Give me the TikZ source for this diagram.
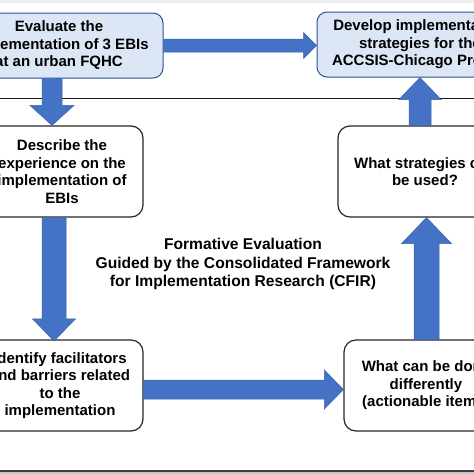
\documentclass[tikz,border=0pt]{standalone}
\usepackage{fontspec}
\setmainfont{Liberation Sans}
\usetikzlibrary{calc}
\definecolor{arrowblue}{HTML}{4472C4}
\definecolor{arrowedge}{HTML}{3A64B0}
\definecolor{lightbox}{HTML}{DCE6F4}
\definecolor{lightedge}{HTML}{2F528F}
\newcommand\blockarr[5]{%
  \coordinate (ba-q) at ($(#2)!#5!(#1)$);
  \filldraw[blockarrow] ($(#1)!#3!90:(#2)$) -- ($(ba-q)!#3!90:(#2)$) -- ($(ba-q)!#4!90:(#2)$) -- (#2)
    -- ($(ba-q)!#4!-90:(#2)$) -- ($(ba-q)!#3!-90:(#2)$) -- ($(#1)!#3!-90:(#2)$) -- cycle;}
\begin{document}
\begin{tikzpicture}[x=1pt,y=-1pt,
  boxtext/.style={font=\bfseries\fontsize{15}{17.5}\selectfont, align=center, inner sep=0pt},
  bluebox/.style={boxtext, rectangle, rounded corners=10pt, draw=lightedge, fill=lightbox, line width=1pt},
  whitebox/.style={boxtext, rectangle, rounded corners=12pt, draw=black!85, fill=white, line width=1.2pt},
  blockarrow/.style={fill=arrowblue, draw=arrowedge, line width=0.5pt},
  ]
\useasboundingbox (0,0) rectangle (474,474);
\fill[white] (0,0) rectangle (474,474);
\fill[black!7] (0,0) rectangle (474,2.5);
\fill[black!22] (0,472) rectangle (474,474);
\draw[black!90, line width=1pt] (0,98) -- (474,98);
\draw[black!75, line width=1.6pt] (0,471) -- (474,471);

\node[bluebox, minimum width=208pt, minimum height=65pt] (tl) at (59,45.5)
  {Evaluate the\\implementation of 3 EBIs\\at an urban FQHC};
\node[bluebox, minimum width=206pt, minimum height=65pt] (dev) at (420,44.5)
  {Develop implementation\\strategies for the\\ACCSIS-Chicago Project};
\node[whitebox, minimum width=162pt, minimum height=91pt] (desc) at (62,171.5)
  {Describe the\\experience on the\\implementation of\\EBIs};
\node[whitebox, minimum width=174pt, minimum height=91pt] (strat) at (425,171.5)
  {What strategies can\\be used?};
\node[whitebox, minimum width=166pt, minimum height=91pt] (ident) at (60,385.5)
  {Identify facilitators\\and barriers related\\to the\\implementation};
\node[whitebox, minimum width=164pt, minimum height=91pt] (done) at (426,385.5)
  {What can be done\\differently\\(actionable items)};

\node[font=\bfseries\fontsize{15.6}{18.5}\selectfont, align=center, inner sep=0pt] (cfir) at (243,264)
  {Formative Evaluation\\Guided by the Consolidated Framework\\for Implementation Research (CFIR)};

% arrow endpoints
\coordinate (a1s) at ([xshift=-7pt]tl.south);
\coordinate (a1e) at (a1s |- desc.north);
\coordinate (a2s) at (tl.east);
\coordinate (a2e) at (a2s -| dev.west);
\coordinate (a3s) at ([xshift=-8pt]desc.south);
\coordinate (a3e) at ([yshift=-1.5pt]a3s |- ident.north);
\coordinate (a4s) at ([yshift=-4pt]ident.east);
\coordinate (a4e) at (a4s -| done.west);
\coordinate (a5s) at ([xshift=0.5pt]done.north);
\coordinate (a5e) at (a5s |- strat.south);
\coordinate (a6s) at ([xshift=-5pt]strat.north);
\coordinate (a6e) at (a6s |- dev.south);

\blockarr{a1s}{a1e}{10pt}{22pt}{20pt}
\blockarr{a2s}{a2e}{6.5pt}{13pt}{13pt}
\blockarr{a3s}{a3e}{12pt}{21.5pt}{22pt}
\blockarr{a4s}{a4e}{9.5pt}{19.5pt}{19pt}
\blockarr{a5s}{a5e}{12.5pt}{25pt}{26pt}
\blockarr{a6s}{a6e}{11pt}{21pt}{22pt}
\end{tikzpicture}
\end{document}
